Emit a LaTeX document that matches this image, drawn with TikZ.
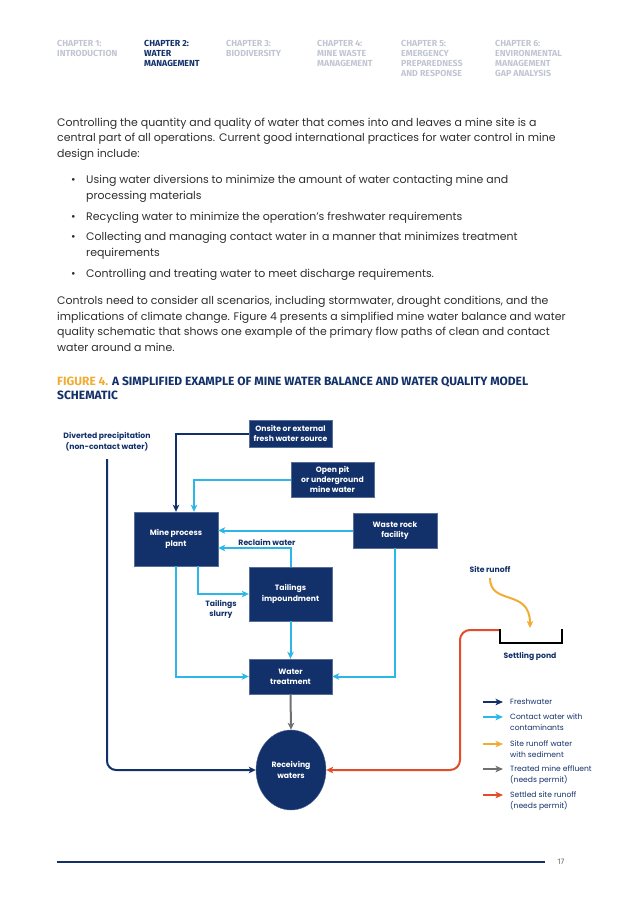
\documentclass[tikz,border=0pt]{standalone}
\usepackage{fontspec}
\setmainfont{Poppins}
\newfontfamily\headfont{Fira Sans}
\usetikzlibrary{arrows.meta,shapes.geometric,calc}
\definecolor{navy}{RGB}{18,48,105}
\definecolor{cyanw}{RGB}{45,183,232}
\definecolor{orangew}{RGB}{240,172,52}
\definecolor{grayw}{RGB}{112,112,112}
\definecolor{redw}{RGB}{226,76,40}
\definecolor{hdgray}{RGB}{192,197,210}
\definecolor{bodytext}{RGB}{45,45,45}
\begin{document}
\begin{tikzpicture}[x=1pt,y=-1pt,
  hd/.style={anchor=base west,inner sep=0,font=\headfont\bfseries\fontsize{8.8}{10}\selectfont,text=hdgray},
  hdon/.style={hd,text=navy},
  bt/.style={anchor=base west,inner sep=0,font=\fontsize{10.95}{13}\selectfont,text=bodytext},
  ttl/.style={anchor=base west,inner sep=0,font=\headfont\bfseries\fontsize{12}{14}\selectfont,text=navy},
  box/.style={fill=navy,draw=navy!70!white,line width=0.4pt,text=white,align=center,inner sep=0,
     font=\bfseries\fontsize{7.7}{10.3}\selectfont},
  lbl/.style={text=navy,align=center,inner sep=0,font=\bfseries\fontsize{7.7}{10.5}\selectfont},
  lg/.style={anchor=base west,text=navy,inner sep=0,font=\fontsize{7.6}{11}\selectfont},
  flow/.style={line width=2pt,-{Stealth[length=7pt,width=6.5pt,inset=1.8pt]}},
  fresh/.style={flow,draw=navy},
  contact/.style={flow,draw=cyanw},
  runoff/.style={flow,draw=orangew},
  treated/.style={flow,draw=grayw},
  settled/.style={flow,draw=redw},
  lgarrow/.style={line width=2.2pt,-{Stealth[length=7.5pt,width=6.5pt,inset=2pt]}}
]
\useasboundingbox (0,0) rectangle (638,902);

% header
\node[hd] (c1a) at (57,46.5) {CHAPTER 1:};
\node[hd] (c1b) at (57,56.5) {INTRODUCTION};
\node[hdon] (c2a) at (144,46.5) {CHAPTER 2:};
\node[hdon] (c2b) at (144,56.5) {WATER};
\node[hdon] (c2c) at (144,66.5) {MANAGEMENT};
\node[hd] (c3a) at (226,46.5) {CHAPTER 3:};
\node[hd] (c3b) at (226,56.5) {BIODIVERSITY};
\node[hd] (c4a) at (317,46.5) {CHAPTER 4:};
\node[hd] (c4b) at (317,56.5) {MINE WASTE};
\node[hd] (c4c) at (317,66.5) {MANAGEMENT};
\node[hd] (c5a) at (401,46.5) {CHAPTER 5:};
\node[hd] (c5b) at (401,56.5) {EMERGENCY};
\node[hd] (c5c) at (401,66.5) {PREPAREDNESS};
\node[hd] (c5d) at (401,76.5) {AND RESPONSE};
\node[hd] (c6a) at (495,46.5) {CHAPTER 6:};
\node[hd] (c6b) at (495,56.5) {ENVIRONMENTAL};
\node[hd] (c6c) at (495,66.5) {MANAGEMENT};
\node[hd] (c6d) at (495,76.5) {GAP ANALYSIS};

% body text
\node[bt] (p1) at (57,126) {Controlling the quantity and quality of water that comes into and leaves a mine site is a};
\node[bt] (p2) at (57,141.7) {central part of all operations. Current good international practices for water control in mine};
\node[bt] (p3) at (57,157.3) {design include:};
\node[bt] (b1) at (71,183.3) {•};
\node[bt] (b1a) at (86,183.3) {Using water diversions to minimize the amount of water contacting mine and};
\node[bt] (b1b) at (86,199) {processing materials};
\node[bt] (b2) at (71,220) {•};
\node[bt] (b2a) at (86,220) {Recycling water to minimize the operation’s freshwater requirements};
\node[bt] (b3) at (71,240.7) {•};
\node[bt] (b3a) at (86,240.7) {Collecting and managing contact water in a manner that minimizes treatment};
\node[bt] (b3b) at (86,256.7) {requirements};
\node[bt] (b4) at (71,277.7) {•};
\node[bt] (b4a) at (86,277.7) {Controlling and treating water to meet discharge requirements.};
\node[bt] (q1) at (57,304) {Controls need to consider all scenarios, including stormwater, drought conditions, and the};
\node[bt] (q2) at (57,320) {implications of climate change. Figure 4 presents a simplified mine water balance and water};
\node[bt] (q3) at (57,335.7) {quality schematic that shows one example of the primary flow paths of clean and contact};
\node[bt] (q4) at (57,351.7) {water around a mine.};

% title
\node[ttl] (t1) at (57,385) {\textcolor{orangew}{FIGURE 4.} A SIMPLIFIED EXAMPLE OF MINE WATER BALANCE AND WATER QUALITY MODEL};
\node[ttl] (t2) at (57,399.5) {SCHEMATIC};

% boxes
\node[box,minimum width=84,minimum height=54] (mine) at (176,539) {Mine process\\plant};
\node[box,minimum width=83,minimum height=27] (onsite) at (290.5,433.5) {Onsite or external\\fresh water source};
\node[box,minimum width=83,minimum height=35] (pit) at (332.5,479.5) {Open pit\\or underground\\mine water};
\node[box,minimum width=84,minimum height=35] (waste) at (395,530.5) {Waste rock\\facility};
\node[box,minimum width=83,minimum height=54] (tail) at (290.5,594) {Tailings\\impoundment};
\node[box,minimum width=83,minimum height=35] (wt) at (290.5,676.5) {Water\\treatment};
\node[box,ellipse,minimum width=70,minimum height=80] (recv) at (291,770) {Receiving\\waters};

% labels
\node[lbl] (divl) at (107,441.5) {Diverted precipitation\\(non-contact water)};
\node[lbl] (recl) at (267,542.5) {Reclaim water};
\node[lbl] (slur) at (221,609.5) {Tailings\\slurry};
\node[lbl] (srun) at (490,569) {Site runoff};
\node[lbl] (setp) at (530,656.5) {Settling pond};

\coordinate (dv) at (107,459);
\coordinate (rs) at (490,578);
\coordinate (pondL) at (500,630);

% connectors
\draw[fresh] (onsite.west) -| (mine.north);
\draw[contact] (pit.west) -| ($(mine.north)+(18,0)$);
\draw[contact] (waste.west) -- (waste.west -| mine.east);
\draw[contact] (tail.north) |- ($(mine.east)+(0,9)$);
\draw[contact] ($(mine.south)+(22,0)$) |- (tail.west);
\draw[contact] (mine.south) |- (wt.west);
\draw[contact] (tail.south) -- (wt.north);
\draw[contact] (waste.south) |- (wt.east);
\draw[treated] (wt.south) -- (recv.north);
\draw[fresh,rounded corners=9pt] (dv) |- (recv.west);
\draw[settled,rounded corners=10pt] (pondL) -- ++(-40,0) |- (recv.east);
\draw[runoff] (rs) .. controls (490,606) and (530,588) .. (530,628);
\draw[black,line width=1.8pt] (500,629) -- (500,643) -- (562,643) -- (562,629);

% legend
\coordinate (l1a) at (483,702); \coordinate (l1b) at (503,702);
\coordinate (l2a) at (483,717); \coordinate (l2b) at (503,717);
\coordinate (l3a) at (483,744); \coordinate (l3b) at (503,744);
\coordinate (l4a) at (483,769); \coordinate (l4b) at (503,769);
\coordinate (l5a) at (483,795); \coordinate (l5b) at (503,795);
\draw[lgarrow,draw=navy] (l1a) -- (l1b);
\draw[lgarrow,draw=cyanw] (l2a) -- (l2b);
\draw[lgarrow,draw=orangew] (l3a) -- (l3b);
\draw[lgarrow,draw=grayw] (l4a) -- (l4b);
\draw[lgarrow,draw=redw] (l5a) -- (l5b);
\node[lg] (lt1) at (510,704.5) {Freshwater};
\node[lg] (lt2) at (510,719.5) {Contact water with};
\node[lg] (lt2b) at (510,730.5) {contaminants};
\node[lg] (lt3) at (510,746.5) {Site runoff water};
\node[lg] (lt3b) at (510,757.5) {with sediment};
\node[lg] (lt4) at (510,771.5) {Treated mine effluent};
\node[lg] (lt4b) at (510,782.5) {(needs permit)};
\node[lg] (lt5) at (510,797.5) {Settled site runoff};
\node[lg] (lt5b) at (510,808.5) {(needs permit)};

% footer
\coordinate (fl) at (57,862); \coordinate (fr) at (545,862);
\draw[navy,line width=1.8pt] (fl) -- (fr);
\node[inner sep=0,font=\headfont\fontsize{8}{10}\selectfont,text=grayw] (pg) at (561,862) {17};
\end{tikzpicture}
\end{document}
